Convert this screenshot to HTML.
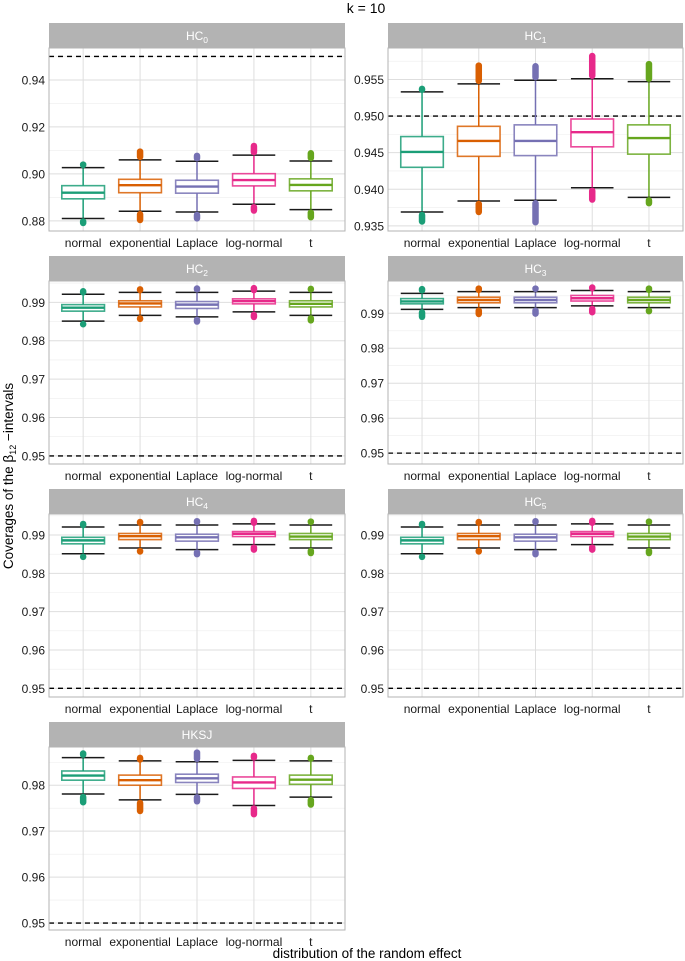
<!DOCTYPE html>
<html><head><meta charset="utf-8"><style>
html,body{margin:0;padding:0;background:#fff;}
svg{display:block;font-family:"Liberation Sans",sans-serif;}
</style></head><body>
<svg id="chart" width="685" height="961" viewBox="0 0 685 961" xmlns="http://www.w3.org/2000/svg">
<text x="366" y="13" font-size="14" text-anchor="middle" fill="#000">k = 10</text>
<text transform="translate(13,476) rotate(-90)" font-size="13.5" text-anchor="middle" fill="#000">Coverages of the β<tspan font-size="9" dy="3">12</tspan><tspan dy="-3"> −intervals</tspan></text>
<text x="367" y="958" font-size="13.5" text-anchor="middle" fill="#000">distribution of the random effect</text>
</svg>
<script>
const categories = ["normal","exponential","Laplace","log-normal","t"];
const colors = ["#1B9E77","#D95F02","#7570B3","#E7298A","#66A61E"];

const hc0Lo = [0.8810,0.8841,0.8838,0.8871,0.8848];
const hc0Q1 = [0.8894,0.8920,0.8918,0.8949,0.8928];
const hc0Med = [0.8920,0.8952,0.8946,0.8974,0.8953];
const hc0Q3 = [0.8950,0.8977,0.8973,0.9001,0.8979];
const hc0Hi = [0.9027,0.9060,0.9054,0.9080,0.9055];
const hc0OutLo = [0.8791,0.8804,0.8811,0.8844,0.8816];
const hc0OutHi = [0.9038,0.9095,0.9077,0.9119,0.9088];

const hc1Lo = [0.9369,0.9384,0.9385,0.9402,0.9389];
const hc1Q1 = [0.9430,0.9445,0.9446,0.9458,0.9448];
const hc1Med = [0.9451,0.9466,0.9466,0.9478,0.9470];
const hc1Q3 = [0.9472,0.9486,0.9488,0.9496,0.9488];
const hc1Hi = [0.9533,0.9544,0.9549,0.9551,0.9547];
const hc1OutLo = [0.9356,0.9369,0.9355,0.9386,0.9381];
const hc1OutHi = [0.9536,0.9569,0.9568,0.9582,0.9571];

const hc2Lo = [0.9851,0.9866,0.9862,0.9875,0.9866];
const hc2Q1 = [0.9877,0.9888,0.9884,0.9896,0.9888];
const hc2Med = [0.9886,0.9897,0.9894,0.9903,0.9896];
const hc2Q3 = [0.9894,0.9904,0.9902,0.9909,0.9904];
const hc2Hi = [0.9921,0.9926,0.9926,0.9929,0.9926];
const hc2OutLo = [0.9843,0.9857,0.9850,0.9862,0.9853];
const hc2OutHi = [0.9926,0.9932,0.9936,0.9932,0.9935];

const hc3Lo = [0.9911,0.9916,0.9916,0.9921,0.9916];
const hc3Q1 = [0.9927,0.9930,0.9930,0.9935,0.9930];
const hc3Med = [0.9934,0.9938,0.9938,0.9943,0.9938];
const hc3Q3 = [0.9942,0.9946,0.9946,0.9951,0.9946];
const hc3Hi = [0.9957,0.9962,0.9962,0.9965,0.9962];
const hc3OutLo = [0.9890,0.9898,0.9899,0.9903,0.9906];
const hc3OutHi = [0.9969,0.9967,0.9970,0.9972,0.9967];

const hc4Lo = [0.9851,0.9866,0.9862,0.9875,0.9866];
const hc4Q1 = [0.9877,0.9888,0.9884,0.9896,0.9888];
const hc4Med = [0.9886,0.9897,0.9894,0.9903,0.9896];
const hc4Q3 = [0.9894,0.9904,0.9902,0.9909,0.9904];
const hc4Hi = [0.9921,0.9926,0.9926,0.9929,0.9926];
const hc4OutLo = [0.9843,0.9857,0.9850,0.9862,0.9853];
const hc4OutHi = [0.9926,0.9932,0.9936,0.9932,0.9935];

const hc5Lo = [0.9851,0.9866,0.9862,0.9875,0.9866];
const hc5Q1 = [0.9877,0.9888,0.9884,0.9896,0.9888];
const hc5Med = [0.9886,0.9897,0.9894,0.9903,0.9896];
const hc5Q3 = [0.9894,0.9904,0.9902,0.9909,0.9904];
const hc5Hi = [0.9921,0.9926,0.9926,0.9929,0.9926];
const hc5OutLo = [0.9843,0.9857,0.9850,0.9862,0.9853];
const hc5OutHi = [0.9926,0.9932,0.9936,0.9932,0.9935];

const hksjLo = [0.9781,0.9768,0.9780,0.9756,0.9774];
const hksjQ1 = [0.9811,0.9800,0.9806,0.9793,0.9802];
const hksjMed = [0.9821,0.9811,0.9815,0.9806,0.9812];
const hksjQ3 = [0.9831,0.9822,0.9824,0.9818,0.9822];
const hksjHi = [0.9860,0.9853,0.9851,0.9854,0.9853];
const hksjOutLo = [0.9763,0.9744,0.9765,0.9737,0.9758];
const hksjOutHi = [0.9869,0.9856,0.9871,0.9864,0.9858];

const hc0Ticks = ["0.88","0.90","0.92","0.94"];
const hc1Ticks = ["0.935","0.940","0.945","0.950","0.955"];
const hcTicks = ["0.95","0.96","0.97","0.98","0.99"];
const refLine = 0.95;

const NS = "http://www.w3.org/2000/svg";
const svg = document.getElementById("chart");
function mk(tag, attrs, parent) {
  const e = document.createElementNS(NS, tag);
  for (const k in attrs) e.setAttribute(k, attrs[k]);
  (parent || svg).appendChild(e);
  return e;
}

const panels = [
  {label:"HC", sub:"0", key:"hc0", x0:49, x1:345, top:23, vmin:0.8757, vmax:0.9536, ticks:hc0Ticks, step:0.02, lo:hc0Lo,q1:hc0Q1,med:hc0Med,q3:hc0Q3,hi:hc0Hi,olo:hc0OutLo,ohi:hc0OutHi},
  {label:"HC", sub:"1", key:"hc1", x0:388, x1:683, top:23, vmin:0.9343, vmax:0.9593, ticks:hc1Ticks, step:0.005, lo:hc1Lo,q1:hc1Q1,med:hc1Med,q3:hc1Q3,hi:hc1Hi,olo:hc1OutLo,ohi:hc1OutHi},
  {label:"HC", sub:"2", key:"hc2", x0:49, x1:345, top:256, vmin:0.9479, vmax:0.99555, ticks:hcTicks, step:0.01, lo:hc2Lo,q1:hc2Q1,med:hc2Med,q3:hc2Q3,hi:hc2Hi,olo:hc2OutLo,ohi:hc2OutHi},
  {label:"HC", sub:"3", key:"hc3", x0:388, x1:683, top:256, vmin:0.9469, vmax:0.99923, ticks:hcTicks, step:0.01, lo:hc3Lo,q1:hc3Q1,med:hc3Med,q3:hc3Q3,hi:hc3Hi,olo:hc3OutLo,ohi:hc3OutHi},
  {label:"HC", sub:"4", key:"hc4", x0:49, x1:345, top:489, vmin:0.94774, vmax:0.99548, ticks:hcTicks, step:0.01, lo:hc4Lo,q1:hc4Q1,med:hc4Med,q3:hc4Q3,hi:hc4Hi,olo:hc4OutLo,ohi:hc4OutHi},
  {label:"HC", sub:"5", key:"hc5", x0:388, x1:683, top:489, vmin:0.94774, vmax:0.99548, ticks:hcTicks, step:0.01, lo:hc5Lo,q1:hc5Q1,med:hc5Med,q3:hc5Q3,hi:hc5Hi,olo:hc5OutLo,ohi:hc5OutHi},
  {label:"HKSJ", sub:"", key:"hksj", x0:49, x1:345, top:722, vmin:0.94849, vmax:0.98832, ticks:hcTicks, step:0.01, lo:hksjLo,q1:hksjQ1,med:hksjMed,q3:hksjQ3,hi:hksjHi,olo:hksjOutLo,ohi:hksjOutHi}
];

panels.forEach(p => {
  const g = mk("g", {});
  
  
  const py0 = p.top + 25, py1 = p.top + 208;
  const w = p.x1 - p.x0;
  const y = v => py1 - (v - p.vmin) / (p.vmax - p.vmin) * (py1 - py0);
  const x = i => p.x0 + (i + 0.6) * w / 5.2;
  const bw = 0.75 * w / 5.2;
  const inRange = v => v >= p.vmin && v <= p.vmax;

  const strip = mk("rect", {x:p.x0, y:p.top, width:w, height:25, fill:"#b3b3b3"}, g);
  
  
  const st = mk("text", {x:(p.x0+p.x1)/2, y:p.top+17, "font-size":12, fill:"#fff", "text-anchor":"middle"}, g);
  
  
  st.appendChild(document.createTextNode(p.label));
  if (p.sub) { const ts = mk("tspan", {"font-size":8.5, dy:3}, st); ts.textContent = p.sub; }

  mk("rect", {x:p.x0, y:py0, width:w, height:py1-py0, fill:"#fff"}, g);
  const tv = p.ticks.map(Number);
  for (let v = tv[0] - p.step/2; v <= p.vmax + p.step; v += p.step) {
    if (inRange(v)) mk("line", {x1:p.x0, x2:p.x1, y1:y(v), y2:y(v), stroke:"#ededed", "stroke-width":0.6}, g);
  }
  tv.forEach((v, k) => {
    if (!inRange(v)) return;
    mk("line", {x1:p.x0, x2:p.x1, y1:y(v), y2:y(v), stroke:"#dedede", "stroke-width":1}, g);
    const t = mk("text", {x:p.x0-4, y:y(v)+4.5, "font-size":12, fill:"#1a1a1a", "text-anchor":"end"}, g);
    
    
    t.textContent = p.ticks[k];
  });
  categories.forEach((c, i) => {
    mk("line", {x1:x(i), x2:x(i), y1:py0, y2:py1, stroke:"#dedede", "stroke-width":1}, g);
    const t = mk("text", {x:x(i), y:py1+16, "font-size":12, fill:"#1a1a1a", "text-anchor":"middle"}, g);
    
    
    t.textContent = c;
  });
  const rl = mk("line", {x1:p.x0, x2:p.x1, y1:y(refLine), y2:y(refLine), stroke:"#000", "stroke-width":1.3, "stroke-dasharray":"5,4"}, g);
  
  

  categories.forEach((c, i) => {
    const col = colors[i], cx = x(i);
    const bg = mk("g", {}, g);
    
    
    mk("line", {x1:cx, x2:cx, y1:y(p.hi[i]), y2:y(p.lo[i]), stroke:col, "stroke-width":1.5}, bg);
    mk("line", {x1:cx-bw/2, x2:cx+bw/2, y1:y(p.hi[i]), y2:y(p.hi[i]), stroke:"#1a1a1a", "stroke-width":1.5}, bg);
    mk("line", {x1:cx-bw/2, x2:cx+bw/2, y1:y(p.lo[i]), y2:y(p.lo[i]), stroke:"#1a1a1a", "stroke-width":1.5}, bg);
    const bt = y(p.q3[i]), bb = y(p.q1[i]);
    mk("rect", {x:cx-bw/2, y:bt, width:bw, height:Math.max(bb-bt,0.5), fill:"#fff", stroke:col, "stroke-width":1.6, "stroke-opacity":0.85}, bg);
    mk("line", {x1:cx-bw/2, x2:cx+bw/2, y1:y(p.med[i]), y2:y(p.med[i]), stroke:col, "stroke-width":2.4}, bg);
    const oh = mk("line", {x1:cx, x2:cx, y1:y(p.hi[i])-3, y2:y(p.ohi[i]), stroke:col, "stroke-width":6.5, "stroke-linecap":"round"}, bg);
    
    
    const ol = mk("line", {x1:cx, x2:cx, y1:y(p.lo[i])+3, y2:y(p.olo[i]), stroke:col, "stroke-width":6.5, "stroke-linecap":"round"}, bg);
    
    
  });
  mk("rect", {x:p.x0, y:py0, width:w, height:py1-py0, fill:"none", stroke:"#b3b3b3", "stroke-width":1}, g);
});
</script>
</body></html>
